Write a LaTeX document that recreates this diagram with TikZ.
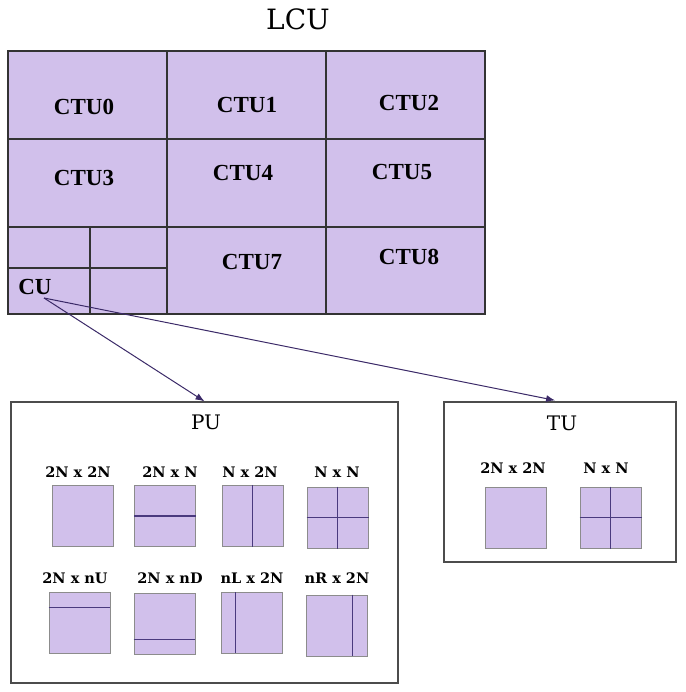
\documentclass[tikz,border=0pt]{standalone}
\usepackage{fontspec}
\setmainfont{Liberation Serif}
\newfontfamily\slabfont{DejaVu Serif}
\usetikzlibrary{arrows.meta, positioning}
\definecolor{cellfill}{HTML}{D1C0EB}
\definecolor{splitline}{HTML}{4A3A7E}
\definecolor{arrowcol}{HTML}{3B2A68}
\def\quart{15.25}

\begin{document}
\begin{tikzpicture}[x=1pt,y=-1pt]
    \tikzstyle{ctu cell}=[rectangle, draw=black!80, fill=cellfill, line width=1.1pt, inner sep=0pt]
    \tikzstyle{ctu label}=[font=\bfseries\fontsize{23}{26}\selectfont, inner sep=0pt]
    \tikzstyle{part}=[rectangle, draw=black!45, fill=cellfill, line width=1pt, minimum size=61pt, inner sep=0pt]
    \tikzstyle{split}=[draw=splitline, line width=1.3pt]
    \tikzstyle{part label}=[font=\slabfont\bfseries\fontsize{14.5}{16}\selectfont, inner sep=0pt]
    \tikzstyle{unit box}=[rectangle, draw=black!70, line width=1.3pt, inner sep=0pt]
    \tikzstyle{title}=[font=\slabfont\fontsize{20}{24}\selectfont, inner sep=0pt]
    \tikzstyle{link}=[draw=arrowcol, line width=1pt, -{Latex[length=9pt,width=7pt]}]

    \useasboundingbox (0,0) rectangle (685,692);

    % The LCU grid
    \node[title, font=\slabfont\fontsize{28}{32}\selectfont] (LCU) at (298,19) {LCU};
    \foreach \name / \x / \y / \w / \h in {0/87.5/95/159/88, 1/246.5/95/159/88, 2/405.5/95/159/88,
            3/87.5/183/159/88, 4/246.5/183/159/88, 5/405.5/183/159/88,
            6a/49/247.5/82/41, 6b/128.5/247.5/77/41, 6c/49/291/82/46, 6d/128.5/291/77/46,
            7/246.5/270.5/159/87, 8/405.5/270.5/159/87}
        \node[ctu cell, minimum width=\w pt, minimum height=\h pt] (C-\name) at (\x,\y) {};

    % CTU names
    \foreach \name / \x / \y in {0/84/107, 1/247/105, 2/409/103, 3/84/178,
            4/243/173, 5/402/172, 7/252/262, 8/409/257}
        \node[ctu label] (L-\name) at (\x,\y) {CTU\name};
    \node[ctu label] (CU) at (35,287) {CU};
    \coordinate (cu-out) at (44,298);

    % PU and TU boxes
    \node[unit box, minimum width=387pt, minimum height=281pt] (PU) at (204.5,542.5) {};
    \node[unit box, minimum width=232pt, minimum height=160pt] (TU) at (560,482) {};
    \node[title] (PU-title) at (206,422) {PU};
    \node[title] (TU-title) at (562,423) {TU};

    % Partition shapes
    \foreach \name / \x / \y / \lx / \ly / \txt in {1/83/516/78/472/2N x 2N, 2/165/516/170/472/2N x N,
            3/252.5/516/250/472/N x 2N, 4/337.5/517.5/337/472/N x N,
            5/79.5/623/75/578/2N x nU, 6/164.5/623.5/170/578/2N x nD,
            7/251.5/623/252/578/nL x 2N, 8/336.5/625.5/337/578/nR x 2N}
    {
        \node[part] (P-\name) at (\x,\y) {};
        \node[part label] (PL-\name) at (\lx,\ly) {\txt};
    }
    \foreach \name / \x / \lx / \txt in {1/515.5/513/2N x 2N, 2/610.5/606/N x N}
    {
        \node[part] (T-\name) at (\x,517.5) {};
        \node[part label] (TL-\name) at (\lx,468) {\txt};
    }

    % Split lines
    \draw[split] (P-2.west) -- (P-2.east);
    \draw[split] (P-3.north) -- (P-3.south);
    \draw[split] (P-4.north) -- (P-4.south) (P-4.west) -- (P-4.east);
    \draw[split] (P-5.north west) ++(0,\quart) -- ++(61,0);
    \draw[split] (P-6.south west) ++(0,-\quart) -- ++(61,0);
    \draw[split] (P-7.north west) ++(\quart,0) -- ++(0,61);
    \draw[split] (P-8.north east) ++(-\quart,0) -- ++(0,61);
    \draw[split] (T-2.north) -- (T-2.south) (T-2.west) -- (T-2.east);

    % CU to PU and TU
    \draw[link] (cu-out) -- (PU.north);
    \draw[link, shorten >=5pt] (cu-out) -- (TU.north);
\end{tikzpicture}
\end{document}
